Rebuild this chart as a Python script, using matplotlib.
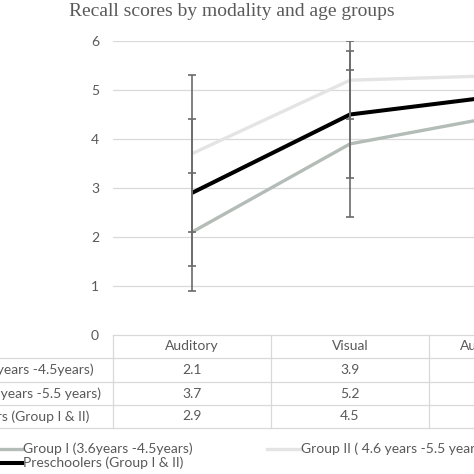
import matplotlib
matplotlib.use("Agg")
import matplotlib.pyplot as plt
from matplotlib.lines import Line2D
import matplotlib.transforms as mtransforms

# ---- data ----
categories = ["Auditory", "Visual", "Auditory-Visual"]
series_names = ["Group I (3.6years -4.5years)",
                "Group II ( 4.6 years -5.5 years)",
                "Preschoolers (Group I & II)"]
group1 = [2.1, 3.9, 4.5]
group2 = [3.7, 5.2, 5.3]
preschool = [2.9, 4.5, 4.9]
err_group1 = [1.2, 1.5, 1.0]
err_group2 = [1.6, 0.8, 0.7]
err_preschool = [1.5, 1.3, 0.9]
yticks = [0, 1, 2, 3, 4, 5, 6]
title = "Recall scores by modality and age groups"

values = [group1, group2, preschool]
errors = [err_group1, err_group2, err_preschool]
colors = ["#b3bcb7", "#e4e4e4", "#000000"]
widths = [2.4, 2.4, 2.9]

W = H = 474
fig = plt.figure(figsize=(W / 100, H / 100), dpi=100)
fig.patch.set_facecolor("white")

def fx(px):
    return px / W

def fy(py):
    return 1 - py / H

sans = ["Lato", "DejaVu Sans"]
fs = 10
txt_col = "#595959"
grid_col = "#d9d9d9"

ax = fig.add_axes([fx(113), fy(335), fx(587) - fx(113), fy(41) - fy(335)])
x = list(range(len(categories)))
ax.set_xlim(-0.5, len(categories) - 0.5)
ax.set_ylim(0, 6)
for s in ax.spines.values():
    s.set_visible(False)
ax.set_xticks([])
ax.set_yticks(yticks)
ax.set_yticklabels([str(t) for t in yticks], fontfamily=sans, fontsize=fs, color=txt_col)
ax.tick_params(axis="y", length=0, pad=10)
for t in yticks[1:]:
    ax.axhline(t, color=grid_col, lw=0.9, zorder=0)

for vals, errs, c, lw in zip(values, errors, colors, widths):
    ax.plot(x, vals, color=c, lw=lw, solid_capstyle="butt", zorder=2, clip_on=False)
for vals, errs in zip(values, errors):
    ax.errorbar(x, vals, yerr=errs, fmt="none", ecolor="#6b6b6b", elinewidth=1.2,
                capsize=2.6, capthick=1.2, zorder=3)

# ---- title ----
fig.text(fx(232), fy(11), title, ha="center", va="center",
         fontfamily=["Liberation Serif"], fontsize=14, color=txt_col)

# ---- data table ----
bt = mtransforms.blended_transform_factory(ax.transData, fig.transFigure)
row_edges = [335, 358, 382, 405, 428]
fig.add_artist(Line2D([fx(113), 1], [fy(row_edges[0])] * 2, color=grid_col, lw=0.9))
for py in row_edges[1:]:
    fig.add_artist(Line2D([0, 1], [fy(py)] * 2, color=grid_col, lw=0.9))
for i in range(len(categories) + 1):
    ax.add_artist(Line2D([i - 0.5, i - 0.5], [fy(row_edges[0]), fy(row_edges[-1])],
                         color=grid_col, lw=0.9, transform=bt, clip_on=False))
for xi, cat in zip(x, categories):
    ax.text(xi, fy((row_edges[0] + row_edges[1]) / 2), cat, transform=bt,
            ha="center", va="center", fontfamily=sans, fontsize=fs,
            color=txt_col, clip_on=False)
for r, (name, vals) in enumerate(zip(series_names, values)):
    yc = fy((row_edges[r + 1] + row_edges[r + 2]) / 2)
    fig.text(fx(9), yc, name, ha="center", va="center", fontfamily=sans,
             fontsize=fs, color=txt_col)
    for xi, v in zip(x, vals):
        ax.text(xi, yc, f"{v:.1f}", transform=bt, ha="center", va="center",
                fontfamily=sans, fontsize=fs, color=txt_col, clip_on=False)

# ---- legend ----
leg_pos = [(-10, 22, 449), (267, 300, 449), (-10, 22, 463)]
for (x0, x1, py), name, c, lw in zip(leg_pos, series_names, colors, widths):
    fig.add_artist(Line2D([fx(x0), fx(x1)], [fy(py)] * 2, color=c, lw=lw))
    fig.text(fx(x1 + 1), fy(py), name, ha="left", va="center", fontfamily=sans,
             fontsize=fs, color=txt_col)

fig.savefig("out.png", dpi=100, facecolor="white")
